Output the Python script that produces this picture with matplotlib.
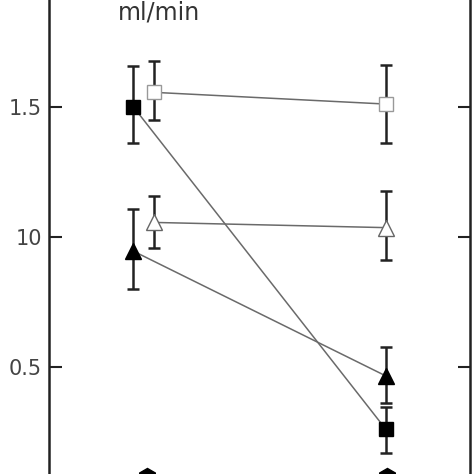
import matplotlib
matplotlib.use("Agg")
import matplotlib.pyplot as plt

# clearance values (ml/min), before / after
x_filled = [0.2, 0.8]
x_open = [0.25, 0.8]

sq_filled = [1.50, 0.26]
sq_filled_lo = [1.36, 0.17]
sq_filled_hi = [1.655, 0.345]

sq_open = [1.555, 1.51]
sq_open_lo = [1.45, 1.36]
sq_open_hi = [1.675, 1.66]

tri_filled = [0.945, 0.465]
tri_filled_lo = [0.80, 0.36]
tri_filled_hi = [1.105, 0.575]

tri_open = [1.055, 1.035]
tri_open_lo = [0.955, 0.91]
tri_open_hi = [1.155, 1.175]

x_bottom = [0.233, 0.803]
bottom_vals = [0.075, 0.075]

yticks = [0.5, 1.0, 1.5]
ytick_labels = ["0.5", "10", "1.5"]


def draw(ax, x, y, lo, hi, marker, face, edge, size):
    err = [[v - l for v, l in zip(y, lo)], [h - v for v, h in zip(y, hi)]]
    ax.plot(x, y, color="#6a6a6a", lw=1.1, zorder=1)
    ax.errorbar(x, y, yerr=err, fmt="none", ecolor="#222222", elinewidth=1.8,
                capsize=4.5, capthick=1.8, zorder=2)
    ax.plot(x, y, ls="none", marker=marker, ms=size, mfc=face, mec=edge,
            mew=1.0, zorder=3)


fig = plt.figure(figsize=(4.74, 4.74), dpi=100)
ax = fig.add_axes([49 / 474, 0, (470 - 49) / 474, 1])
ax.set_xlim(0, 1)
ax.set_ylim(0.088, 1.91)

draw(ax, x_filled, sq_filled, sq_filled_lo, sq_filled_hi, "s", "black", "black", 10.5)
draw(ax, x_open, sq_open, sq_open_lo, sq_open_hi, "s", "white", "#999999", 10)
draw(ax, x_filled, tri_filled, tri_filled_lo, tri_filled_hi, "^", "black", "black", 11)
draw(ax, x_open, tri_open, tri_open_lo, tri_open_hi, "^", "white", "#666666", 11)
ax.plot(x_bottom, bottom_vals, ls="none", marker="h", ms=13, mfc="black",
        mec="black", zorder=3, clip_on=False)

for s in ["top", "bottom"]:
    ax.spines[s].set_visible(False)
for s in ["left", "right"]:
    ax.spines[s].set_linewidth(1.8)
    ax.spines[s].set_color("#222222")

ax.set_xticks([])
ax.set_yticks(yticks)
ax.set_yticklabels(ytick_labels, fontsize=15, color="#444444")
ax.tick_params(axis="y", direction="in", length=9, width=1.5, color="#222222",
               right=True, pad=5)

fig.text(159 / 474, 1 - 19 / 474, "ml/min", fontsize=17, color="#333333",
         ha="center", va="baseline")

fig.savefig("out.png", dpi=100)
